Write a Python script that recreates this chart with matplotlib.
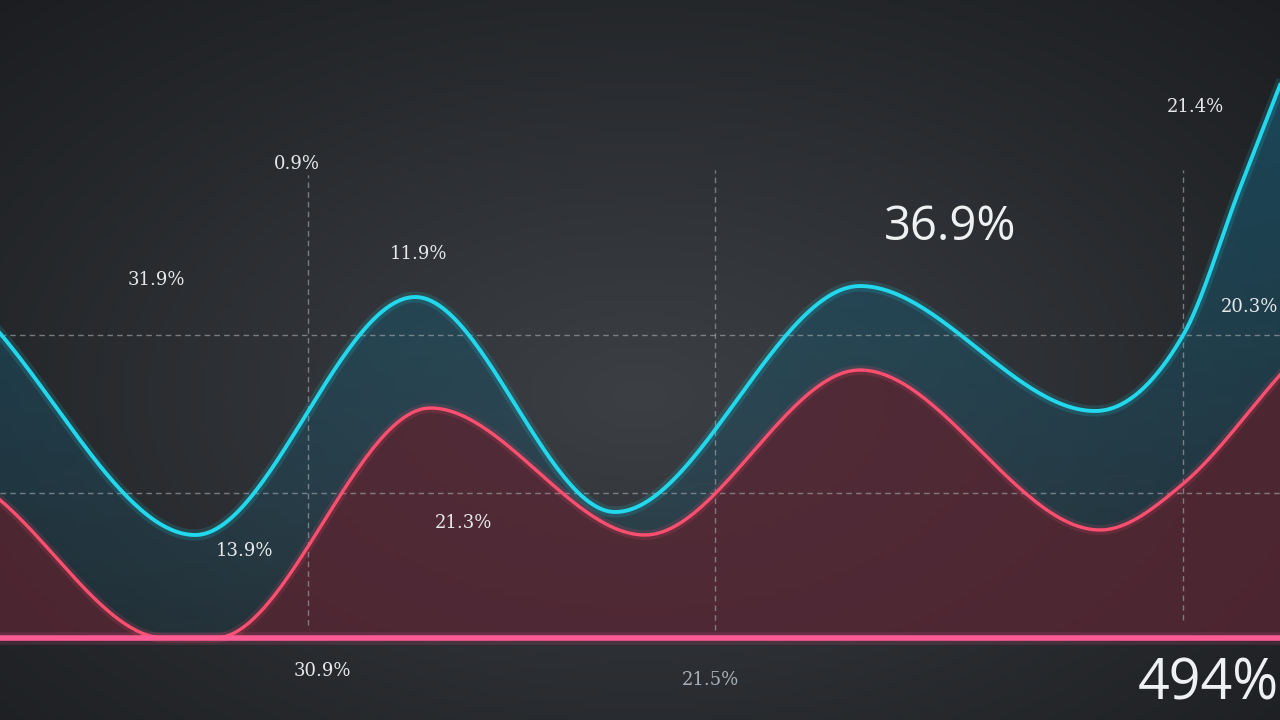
import numpy as np
import matplotlib.pyplot as plt
from matplotlib.patches import Polygon

### Data (x in chart units, y in %)
cyan_x = [-0.2, 2.44, 5.19, 7.69, 10.75, 13.69, 14.79, 15.5, 16.0]
cyan_y = [64.5, 20.6, 68.2, 25.2, 70.4, 45.4, 60.6, 90.0, 110.6]
pink_x = [0.0, 2.06, 2.69, 5.38, 8.06, 10.75, 13.75, 14.8, 16.0]
pink_y = [27.6, 0.0, 0.0, 46.0, 20.6, 53.6, 21.6, 31.0, 52.6]

### Guide lines
h_lines = [60.6, 29.0]
v_lines = [3.85, 8.94, 14.79]
v_top = [92.6, 93.6, 93.6]
v_bottom = [2.6, 1.6, 3.6]

### Annotations
label_text = ["0.9%", "31.9%", "11.9%", "21.4%", "20.3%", "21.3%", "13.9%", "30.9%", "21.5%"]
label_x = [3.71, 1.96, 5.23, 14.94, 15.62, 5.79, 3.05, 4.03, 8.88]
label_y = [94.8, 71.6, 76.8, 106.2, 66.2, 23.0, 17.4, -6.6, -8.4]
big_text = ["36.9%", "494%"]
big_x = [11.875, 15.98]
big_y = [82.2, -9.4]


def smooth(xs, ys, n=60):
    # piecewise cubic hermite, flat at the turning points
    xs = np.asarray(xs, float)
    ys = np.asarray(ys, float)
    d = np.diff(ys) / np.diff(xs)
    m = np.zeros_like(ys)
    m[0] = d[0]
    m[-1] = d[-1]
    for i in range(1, len(ys) - 1):
        if d[i - 1] * d[i] > 0:
            m[i] = (d[i - 1] + d[i]) / 2
    out_x, out_y = [], []
    for i in range(len(xs) - 1):
        h = xs[i + 1] - xs[i]
        t = np.linspace(0, 1, n)
        h00 = 2 * t**3 - 3 * t**2 + 1
        h10 = t**3 - 2 * t**2 + t
        h01 = -2 * t**3 + 3 * t**2
        h11 = t**3 - t**2
        out_x.append(xs[i] + t * h)
        out_y.append(h00 * ys[i] + h10 * h * m[i] + h01 * ys[i + 1] + h11 * h * m[i + 1])
    return np.concatenate(out_x), np.concatenate(out_y)


cx, cy = smooth(cyan_x, cyan_y)
px, py = smooth(pink_x, pink_y)
grid = np.linspace(0, 16, 800)
cyan_g = np.interp(grid, cx, cy)
pink_g = np.interp(grid, px, py)
pink_g = np.maximum(pink_g, 0)

fig = plt.figure(figsize=(12.8, 7.2), dpi=100)
ax = fig.add_axes([0, 0, 1, 1])
ax.set_xlim(0, 16)
ax.set_ylim(-16.4, 127.6)
ax.axis('off')

### Background: radial dark gradient
yy, xx = np.mgrid[0:1:200j, 0:1:320j]
r = np.sqrt(((xx - 0.5) / 0.75) ** 2 + ((yy - 0.55) / 0.8) ** 2)
r = np.clip(r, 0, 1)
c_in = np.array([0x3c, 0x3f, 0x44]) / 255
c_out = np.array([0x1a, 0x1c, 0x1f]) / 255
bg = c_in[None, None, :] * (1 - r[..., None]) + c_out[None, None, :] * r[..., None]
ax.imshow(bg, extent=[0, 16, -16.4, 127.6], origin='upper', aspect='auto', zorder=0)

### Fill between cyan and pink (teal gradient)
teal_poly = Polygon(np.column_stack([np.r_[grid, grid[::-1]], np.r_[cyan_g, pink_g[::-1]]]),
                    closed=True, facecolor='none', edgecolor='none')
ax.add_patch(teal_poly)
gy = np.linspace(1, 0, 200)[:, None]
teal = np.zeros((200, 2, 4))
teal[..., 0] = 0.10
teal[..., 1] = 0.33
teal[..., 2] = 0.42
teal[..., 3] = 0.2 + 0.55 * gy
im = ax.imshow(teal, extent=[0, 16, 0, 115], origin='upper', aspect='auto', zorder=1)
im.set_clip_path(teal_poly)

### Fill below pink (maroon)
ax.fill_between(grid, 0, pink_g, color='#5a2634', alpha=0.75, lw=0, zorder=1)

### Dashed guides
for hv in h_lines:
    ax.axhline(hv, color='#9a9ea3', lw=1.0, ls=(0, (4, 3)), alpha=0.7, zorder=2)
for vx, vt, vb in zip(v_lines, v_top, v_bottom):
    ax.plot([vx, vx], [vb, vt], color='#9a9ea3', lw=1.0, ls=(0, (4, 3)), alpha=0.7, zorder=2)

### Lines with a little glow
ax.plot(px, np.maximum(py, 0), color='#ff4f70', lw=7, alpha=0.15, zorder=3)
ax.plot(px, np.maximum(py, 0), color='#ff4f70', lw=2.4, zorder=4)
ax.plot(cx, cy, color='#22d8ec', lw=8, alpha=0.15, zorder=3)
ax.plot(cx, cy, color='#22d8ec', lw=2.8, zorder=5)
ax.axhline(0, color='#ff5c93', lw=4, zorder=6)
ax.axhline(0, color='#ff5c93', lw=9, alpha=0.15, zorder=6)

### Labels
for t, x, y in zip(label_text, label_x, label_y):
    col = '#aab0b5' if t == "21.5%" else '#e6e8ea'
    ax.text(x, y, t, color=col, fontsize=13, ha='center', va='center', zorder=7,
            family='DejaVu Serif')
ax.text(big_x[0], big_y[0], big_text[0], color='#eef0f2', fontsize=34, ha='center',
        va='center', family='Open Sans', zorder=7)
ax.text(big_x[1], big_y[1], big_text[1], color='#eef0f2', fontsize=40, ha='right',
        va='center', family='Open Sans', zorder=7)

fig.savefig('out.png', dpi=100)
